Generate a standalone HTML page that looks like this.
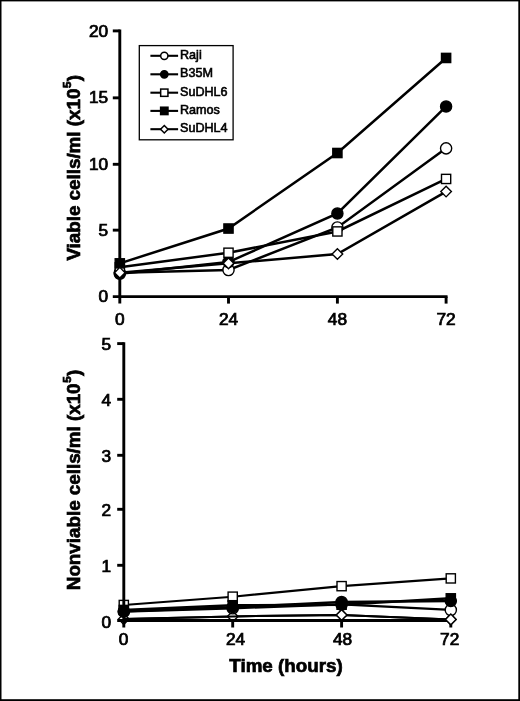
<!DOCTYPE html>
<html><head><meta charset="utf-8"><title>Cell growth</title>
<style>html,body{margin:0;padding:0;background:#fff;}body{width:520px;height:701px;overflow:hidden;}svg{display:block;}text{font-family:"Liberation Sans",sans-serif;fill:#000;}.tk{font-size:15.7px;stroke:#000;stroke-width:0.75px;}.lb{font-size:18.8px;font-weight:bold;stroke:#000;stroke-width:0.7px;}.lg{font-size:12.6px;stroke:#000;stroke-width:0.6px;}</style></head><body>
<svg width="520" height="701" viewBox="0 0 520 701">
<rect x="0" y="0" width="520" height="701" fill="#fff"/>
<rect x="0" y="0" width="520" height="1.4" fill="#000"/>
<rect x="0" y="0" width="1.5" height="701" fill="#000"/>
<rect x="518.3" y="0" width="1.7" height="701" fill="#000"/>
<rect x="0" y="699.2" width="520" height="1.8" fill="#000"/>
<g stroke="#000" stroke-width="2.9" fill="none" stroke-linecap="butt">
<path d="M119.8 29.45V303.6"/>
<path d="M112.8 296.6H447.55"/>
<path d="M112.8 230.15H119.8"/>
<path d="M112.8 164.3H119.8"/>
<path d="M112.8 97.85H119.8"/>
<path d="M112.8 30.9H119.8"/>
<path d="M228.5 296.6V303.6"/>
<path d="M337.4 296.6V303.6"/>
<path d="M446.1 296.6V303.6"/>
</g>
<text class="tk" transform="translate(108.1 302.4) scale(1.1 1)" text-anchor="end">0</text>
<text class="tk" transform="translate(108.1 236.4) scale(1.1 1)" text-anchor="end">5</text>
<text class="tk" transform="translate(108.1 170.1) scale(1.1 1)" text-anchor="end">10</text>
<text class="tk" transform="translate(108.1 103.4) scale(1.1 1)" text-anchor="end">15</text>
<text class="tk" transform="translate(108.1 36.7) scale(1.1 1)" text-anchor="end">20</text>
<text class="tk" transform="translate(119.8 324.5) scale(1.1 1)" text-anchor="middle">0</text>
<text class="tk" transform="translate(228.5 324.5) scale(1.1 1)" text-anchor="middle">24</text>
<text class="tk" transform="translate(337.4 324.5) scale(1.1 1)" text-anchor="middle">48</text>
<text class="tk" transform="translate(446.1 324.5) scale(1.1 1)" text-anchor="middle">72</text>
<polyline fill="none" stroke="#000" stroke-width="2.5" points="119.8,272.67 228.5,270.01 337.4,227.47 446.1,148.36"/>
<circle cx="119.8" cy="272.67" r="5.6" fill="#fff" stroke="#000" stroke-width="1.4"/>
<circle cx="228.5" cy="270.01" r="5.6" fill="#fff" stroke="#000" stroke-width="1.4"/>
<circle cx="337.4" cy="227.47" r="5.6" fill="#fff" stroke="#000" stroke-width="1.4"/>
<circle cx="446.1" cy="148.36" r="5.6" fill="#fff" stroke="#000" stroke-width="1.4"/>
<polyline fill="none" stroke="#000" stroke-width="2.5" points="119.8,273.73 228.5,262.03 337.4,213.51 446.1,106.48"/>
<circle cx="119.8" cy="273.73" r="5.55" fill="#000" stroke="#000" stroke-width="1.4"/>
<circle cx="228.5" cy="262.03" r="5.55" fill="#000" stroke="#000" stroke-width="1.4"/>
<circle cx="337.4" cy="213.51" r="5.55" fill="#000" stroke="#000" stroke-width="1.4"/>
<circle cx="446.1" cy="106.48" r="5.55" fill="#000" stroke="#000" stroke-width="1.4"/>
<polyline fill="none" stroke="#000" stroke-width="2.5" points="119.8,267.35 228.5,252.73 337.4,231.45 446.1,178.94"/>
<rect x="115.2" y="262.75" width="9.2" height="9.2" fill="#fff" stroke="#000" stroke-width="1.4"/>
<rect x="223.9" y="248.13" width="9.2" height="9.2" fill="#fff" stroke="#000" stroke-width="1.4"/>
<rect x="332.8" y="226.85" width="9.2" height="9.2" fill="#fff" stroke="#000" stroke-width="1.4"/>
<rect x="441.5" y="174.34" width="9.2" height="9.2" fill="#fff" stroke="#000" stroke-width="1.4"/>
<polyline fill="none" stroke="#000" stroke-width="2.5" points="119.8,263.36 228.5,228.53 337.4,153.01 446.1,57.95"/>
<rect x="115.2" y="258.76" width="9.2" height="9.2" fill="#000" stroke="#000" stroke-width="1.4"/>
<rect x="223.9" y="223.93" width="9.2" height="9.2" fill="#000" stroke="#000" stroke-width="1.4"/>
<rect x="332.8" y="148.41" width="9.2" height="9.2" fill="#000" stroke="#000" stroke-width="1.4"/>
<rect x="441.5" y="53.35" width="9.2" height="9.2" fill="#000" stroke="#000" stroke-width="1.4"/>
<polyline fill="none" stroke="#000" stroke-width="2.5" points="119.8,272.67 228.5,263.36 337.4,254.06 446.1,191.57"/>
<path d="M119.8 267.37L125.1 272.67L119.8 277.97L114.5 272.67Z" fill="#fff" stroke="#000" stroke-width="1.4"/>
<path d="M228.5 258.06L233.8 263.36L228.5 268.66L223.2 263.36Z" fill="#fff" stroke="#000" stroke-width="1.4"/>
<path d="M337.4 248.76L342.7 254.06L337.4 259.36L332.1 254.06Z" fill="#fff" stroke="#000" stroke-width="1.4"/>
<path d="M446.1 186.27L451.4 191.57L446.1 196.87L440.8 191.57Z" fill="#fff" stroke="#000" stroke-width="1.4"/>
<polyline fill="none" stroke="#000" stroke-width="2.0" points="123.8,619.12 232.7,616.4 341.6,614.96 450.8,619.39"/>
<path d="M123.8 613.82L129.1 619.12L123.8 624.41L118.5 619.12Z" fill="#fff" stroke="#000" stroke-width="1.4"/>
<path d="M232.7 611.1L238 616.4L232.7 621.7L227.4 616.4Z" fill="#fff" stroke="#000" stroke-width="1.4"/>
<path d="M341.6 609.66L346.9 614.96L341.6 620.26L336.3 614.96Z" fill="#fff" stroke="#000" stroke-width="1.4"/>
<path d="M450.8 614.09L456.1 619.39L450.8 624.69L445.5 619.39Z" fill="#fff" stroke="#000" stroke-width="1.4"/>
<polyline fill="none" stroke="#000" stroke-width="2.0" points="123.8,619.12 232.7,616.4 341.6,614.96 450.8,619.39"/>
<polyline fill="none" stroke="#000" stroke-width="2.2" points="123.8,611.64 232.7,608.31 341.6,604.43 450.8,609.97"/>
<circle cx="123.8" cy="611.64" r="5.6" fill="#fff" stroke="#000" stroke-width="1.4"/>
<circle cx="232.7" cy="608.31" r="5.6" fill="#fff" stroke="#000" stroke-width="1.4"/>
<circle cx="341.6" cy="604.43" r="5.6" fill="#fff" stroke="#000" stroke-width="1.4"/>
<circle cx="450.8" cy="609.97" r="5.6" fill="#fff" stroke="#000" stroke-width="1.4"/>
<polyline fill="none" stroke="#000" stroke-width="2.1" points="123.8,604.99 232.7,596.68 341.6,586.15 450.8,578.4"/>
<rect x="119.2" y="600.39" width="9.2" height="9.2" fill="#fff" stroke="#000" stroke-width="1.4"/>
<rect x="228.1" y="592.08" width="9.2" height="9.2" fill="#fff" stroke="#000" stroke-width="1.4"/>
<rect x="337" y="581.55" width="9.2" height="9.2" fill="#fff" stroke="#000" stroke-width="1.4"/>
<rect x="446.2" y="573.8" width="9.2" height="9.2" fill="#fff" stroke="#000" stroke-width="1.4"/>
<polyline fill="none" stroke="#000" stroke-width="2.5" points="123.8,611.36 232.7,607.2 341.6,601.94 450.8,601.11"/>
<circle cx="123.8" cy="611.36" r="5.55" fill="#000" stroke="#000" stroke-width="1.4"/>
<circle cx="232.7" cy="607.2" r="5.55" fill="#000" stroke="#000" stroke-width="1.4"/>
<circle cx="341.6" cy="601.94" r="5.55" fill="#000" stroke="#000" stroke-width="1.4"/>
<circle cx="450.8" cy="601.11" r="5.55" fill="#000" stroke="#000" stroke-width="1.4"/>
<polyline fill="none" stroke="#000" stroke-width="2.5" points="123.8,609.97 232.7,605.26 341.6,604.71 450.8,598.34"/>
<rect x="119.2" y="605.37" width="9.2" height="9.2" fill="#000" stroke="#000" stroke-width="1.4"/>
<rect x="228.1" y="600.66" width="9.2" height="9.2" fill="#000" stroke="#000" stroke-width="1.4"/>
<rect x="337" y="600.11" width="9.2" height="9.2" fill="#000" stroke="#000" stroke-width="1.4"/>
<rect x="446.2" y="593.74" width="9.2" height="9.2" fill="#000" stroke="#000" stroke-width="1.4"/>
<g stroke="#000" stroke-width="2.9" fill="none" stroke-linecap="butt">
<path d="M123.8 342.15V627.5"/>
<path d="M117.2 620.5H452.25"/>
<path d="M117.2 565.3H123.8"/>
<path d="M117.2 509.3H123.8"/>
<path d="M117.2 455.3H123.8"/>
<path d="M117.2 399.3H123.8"/>
<path d="M117.2 343.6H123.8"/>
<path d="M232.7 620.5V627.5"/>
<path d="M341.6 620.5V627.5"/>
<path d="M450.8 620.5V627.5"/>
</g>
<text class="tk" transform="translate(111.1 627.7) scale(1.1 1)" text-anchor="end">0</text>
<text class="tk" transform="translate(111.1 571.5) scale(1.1 1)" text-anchor="end">1</text>
<text class="tk" transform="translate(111.1 515.9) scale(1.1 1)" text-anchor="end">2</text>
<text class="tk" transform="translate(111.1 461.5) scale(1.1 1)" text-anchor="end">3</text>
<text class="tk" transform="translate(111.1 405.8) scale(1.1 1)" text-anchor="end">4</text>
<text class="tk" transform="translate(111.1 350.2) scale(1.1 1)" text-anchor="end">5</text>
<text class="tk" transform="translate(123.6 645.2) scale(1.1 1)" text-anchor="middle">0</text>
<text class="tk" transform="translate(235.5 645.2) scale(1.1 1)" text-anchor="middle">24</text>
<text class="tk" transform="translate(342.6 645.2) scale(1.1 1)" text-anchor="middle">48</text>
<text class="tk" transform="translate(449.7 645.2) scale(1.1 1)" text-anchor="middle">72</text>
<path d="M341.6 609.66L346.9 614.96L341.6 620.26L336.3 614.96Z" fill="#fff" stroke="#000" stroke-width="1.4"/>
<path d="M450.8 614.09L456.1 619.39L450.8 624.69L445.5 619.39Z" fill="#fff" stroke="#000" stroke-width="1.4"/>
<rect x="139.3" y="45.6" width="93.8" height="94.2" fill="#fff" stroke="#000" stroke-width="1.3"/>
<path d="M150.4 55.8H178.1" stroke="#000" stroke-width="2.1" fill="none"/>
<circle cx="164.3" cy="55.8" r="3.64" fill="#fff" stroke="#000" stroke-width="1.5"/>
<text class="lg" x="180" y="58.6">Raji</text>
<path d="M150.4 74.3H178.1" stroke="#000" stroke-width="2.1" fill="none"/>
<circle cx="164.3" cy="74.3" r="3.66" fill="#000" stroke="#000" stroke-width="1.5"/>
<text class="lg" x="180" y="77.1">B35M</text>
<path d="M150.4 92.7H178.1" stroke="#000" stroke-width="2.1" fill="none"/>
<rect x="160.67" y="89.07" width="7.27" height="7.27" fill="#fff" stroke="#000" stroke-width="1.5"/>
<text class="lg" x="180" y="95.5">SuDHL6</text>
<path d="M150.4 110.9H178.1" stroke="#000" stroke-width="2.1" fill="none"/>
<rect x="160.62" y="107.22" width="7.36" height="7.36" fill="#000" stroke="#000" stroke-width="1.5"/>
<text class="lg" x="180" y="113.7">Ramos</text>
<path d="M150.4 129.2H178.1" stroke="#000" stroke-width="2.1" fill="none"/>
<path d="M164.3 125.49L168.01 129.2L164.3 132.91L160.59 129.2Z" fill="#fff" stroke="#000" stroke-width="1.5"/>
<text class="lg" x="180" y="132">SuDHL4</text>
<text class="lb" transform="translate(79.7 167.75) rotate(-90)" text-anchor="middle">Viable cells/ml (x10<tspan font-size="11.5" dy="-9" dx="0.8">5</tspan><tspan dy="9" dx="0.3">)</tspan></text>
<text class="lb" transform="translate(79.7 479.95) rotate(-90)" text-anchor="middle">Nonviable cells/ml (x10<tspan font-size="11.5" dy="-9" dx="0.8">5</tspan><tspan dy="9" dx="0.3">)</tspan></text>
<text class="lb" x="286" y="671.7" text-anchor="middle">Time (hours)</text>
</svg>
</body></html>
